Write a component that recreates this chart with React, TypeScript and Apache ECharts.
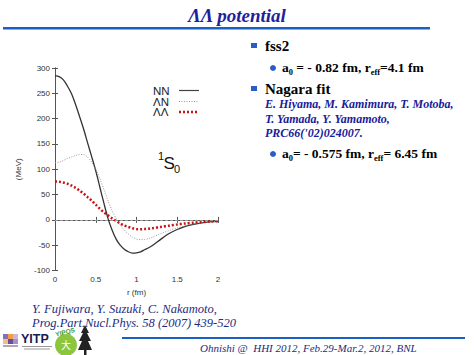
import React, { useEffect, useRef } from "react";
import * as echarts from "echarts";

const rValues = [0, 0.05, 0.1, 0.15, 0.2, 0.25, 0.3, 0.35, 0.4, 0.45, 0.5, 0.55, 0.6, 0.65, 0.7, 0.75, 0.8, 0.85, 0.9, 0.95, 1.0, 1.05, 1.1, 1.15, 1.2, 1.3, 1.4, 1.5, 1.6, 1.7, 1.8, 1.9, 2.0];
const nnValues = [285, 283, 277, 265, 250, 229, 205, 180, 152, 125, 97, 65, 33, 3, -20, -38, -50, -58, -63, -65.5, -65, -63, -59, -55, -50, -38, -27, -19, -13, -9, -6, -4, -3];
const lnValues = [113, 114, 117, 121, 124, 127, 129, 129, 124, 114, 100, 82, 60, 38, 18, 3, -10, -20, -28, -34, -38, -39, -38.5, -37, -34, -27, -21, -16, -11.5, -8, -5.5, -4, -3];
const llValues = [76, 75.5, 74, 71.5, 68, 63.5, 58, 52, 45, 38, 30, 22, 15, 9, 3, -2, -7, -11, -14, -16.5, -18, -18.5, -18, -17.5, -16.5, -14, -11.5, -9, -7, -5.5, -4, -3, -2.5];
const seriesNames = ["NN", "ΛN", "ΛΛ"];
const yTicks = { min: -100, max: 300, interval: 50 };
const xTicks = { min: 0, max: 2, interval: 0.5 };

const SERIF = "'Liberation Serif', 'Times New Roman', serif";
const SANS = "'Liberation Sans', Arial, sans-serif";

function pairs(vals: number[]) {
  return rValues.map((r, i) => [r, vals[i]]);
}

function txt(x: number, y: number, text: string, opts: any = {}) {
  const align = opts.align || "left";
  return {
    type: "text",
    x,
    y,
    rotation: opts.rotation || 0,
    style: {
      text,
      fontSize: opts.fontSize || 12,
      fontFamily: opts.fontFamily || SERIF,
      fontWeight: opts.fontWeight || "normal",
      fontStyle: opts.fontStyle || "normal",
      fill: opts.fill || "#000",
      align,
      textAlign: align,
      verticalAlign: "middle",
      textVerticalAlign: "middle",
      rich: opts.rich,
    },
    silent: true,
  };
}

const subRich = (size: number, color: string) => ({
  m: { fontSize: size, fontWeight: "bold", fontFamily: SERIF, fill: color, lineHeight: 18, verticalAlign: "middle" },
  s: { fontSize: size * 0.62, fontWeight: "bold", fontFamily: SERIF, fill: color, lineHeight: 9, verticalAlign: "bottom" },
});

export default function App() {
  const ref = useRef<HTMLDivElement>(null);
  useEffect(() => {
    if (!ref.current) return;
    const chart = echarts.init(ref.current, undefined, { renderer: "svg" });
    const axisCommon = {
      type: "value",
      axisLine: { show: true, lineStyle: { color: "#555", width: 1 } },
      axisTick: { show: true, inside: true, length: 3, lineStyle: { color: "#555" } },
      splitLine: { show: false },
    };
    const legendRows = [90.5, 101.5, 112];
    const legendStyles = [
      { stroke: "#444", lineWidth: 1.2, lineDash: null },
      { stroke: "#999", lineWidth: 1, lineDash: [1, 1.5] },
      { stroke: "#cc1111", lineWidth: 2.5, lineDash: [2, 2] },
    ];
    const graphics: any[] = [
      // title
      txt(237, 15, "ΛΛ potential", { fontSize: 19, fontWeight: "bold", fontStyle: "italic", fill: "#1f1f9e", align: "center" }),
      { type: "rect", shape: { x: 3, y: 27, width: 427, height: 2.5 }, style: { fill: "#1a5fc4" }, silent: true },
      // bullets
      { type: "rect", shape: { x: 251, y: 43, width: 6, height: 5 }, style: { fill: "#2a5cc8" }, silent: true },
      txt(265, 46, "fss2", { fontSize: 15, fontWeight: "bold" }),
      { type: "circle", shape: { cx: 273, cy: 68, r: 3 }, style: { fill: "#2a5cc8" }, silent: true },
      txt(282, 67, "{m|a}{s|0}{m| = - 0.82 fm, r}{s|eff}{m|=4.1 fm}", { rich: subRich(13.5, "#000") }),
      { type: "rect", shape: { x: 251, y: 86, width: 6, height: 5 }, style: { fill: "#2a5cc8" }, silent: true },
      txt(265, 89, "Nagara fit", { fontSize: 15, fontWeight: "bold" }),
      txt(265, 104, "E. Hiyama, M. Kamimura, T. Motoba,", { fontSize: 12, fontWeight: "bold", fontStyle: "italic", fill: "#1a1a9a" }),
      txt(265, 118.5, "T. Yamada, Y. Yamamoto,", { fontSize: 12, fontWeight: "bold", fontStyle: "italic", fill: "#1a1a9a" }),
      txt(265, 133, "PRC66('02)024007.", { fontSize: 12, fontWeight: "bold", fontStyle: "italic", fill: "#1a1a9a" }),
      { type: "circle", shape: { cx: 273, cy: 154, r: 3 }, style: { fill: "#2a5cc8" }, silent: true },
      txt(282, 153, "{m|a}{s|0}{m|= - 0.575 fm, r}{s|eff}{m|= 6.45 fm}", { rich: subRich(13.5, "#000") }),
      // reference
      txt(32, 309, "Y. Fujiwara, Y. Suzuki, C. Nakamoto,", { fontSize: 12.5, fontStyle: "italic", fill: "#1d2b80" }),
      txt(32, 323, "Prog.Part.Nucl.Phys. 58 (2007) 439-520", { fontSize: 12.5, fontStyle: "italic", fill: "#1d2b80" }),
      // footer
      { type: "rect", shape: { x: 122, y: 337, width: 343, height: 2 }, style: { fill: "#1a5fc4" }, silent: true },
      txt(200, 348, "Ohnishi @  HHI 2012, Feb.29-Mar.2, 2012, BNL", { fontSize: 11, fontStyle: "italic", fill: "#1d2b80" }),
      // logos
      { type: "rect", shape: { x: 3, y: 334, width: 5, height: 5 }, style: { fill: "#8a6cc0" }, silent: true },
      { type: "rect", shape: { x: 8, y: 334, width: 5, height: 5 }, style: { fill: "#f0a040" }, silent: true },
      { type: "rect", shape: { x: 13, y: 334, width: 5, height: 5 }, style: { fill: "#c8b8e0" }, silent: true },
      { type: "rect", shape: { x: 3, y: 339, width: 5, height: 5 }, style: { fill: "#f0c080" }, silent: true },
      { type: "rect", shape: { x: 8, y: 339, width: 5, height: 5 }, style: { fill: "#6a4ca0" }, silent: true },
      { type: "rect", shape: { x: 13, y: 339, width: 5, height: 5 }, style: { fill: "#a890d0" }, silent: true },
      { type: "rect", shape: { x: 3, y: 345, width: 15, height: 2 }, style: { fill: "#aaa" }, silent: true },
      txt(21, 339, "YITP", { fontSize: 12.5, fontWeight: "bold", fontFamily: SANS, fill: "#1a1a50" }),
      { type: "rect", shape: { x: 22, y: 346, width: 30, height: 1 }, style: { fill: "#999" }, silent: true },
      { type: "rect", shape: { x: 24, y: 348.5, width: 26, height: 1 }, style: { fill: "#999" }, silent: true },
      { type: "circle", shape: { cx: 66, cy: 345, r: 11 }, style: { fill: "#8cc63f" }, silent: true },
      txt(65, 332, "YIPQS", { fontSize: 6.5, fontWeight: "bold", fontFamily: SANS, fill: "#3a9a30", align: "center", rotation: 0.25 }),
      txt(66, 344, "大", { fontSize: 10, fontFamily: "'Noto Sans CJK JP'", fill: "#ffffff", align: "center" }),
      { type: "polygon", shape: { points: [[85, 325], [81, 333], [83, 333], [79, 341], [82, 341], [78, 350], [92, 350], [88, 341], [91, 341], [87, 333], [89, 333]] }, style: { fill: "#222" }, silent: true },
      { type: "rect", shape: { x: 84, y: 349, width: 2.5, height: 6 }, style: { fill: "#222" }, silent: true },
      // in-plot legend
      ...seriesNames.map((n, i) => txt(153, legendRows[i], n, { fontSize: 11.5, fontFamily: SANS, fill: "#222" })),
      ...legendStyles.map((s, i) => ({
        type: "line",
        shape: { x1: 179, y1: legendRows[i], x2: 199, y2: legendRows[i] },
        style: { stroke: s.stroke, lineWidth: s.lineWidth, lineDash: s.lineDash },
        silent: true,
      })),
      // 1S0
      txt(158, 156, "1", { fontSize: 11, fontFamily: SANS, fill: "#111" }),
      txt(163.5, 163, "S", { fontSize: 17, fontFamily: SANS, fill: "#111" }),
      txt(174, 169, "0", { fontSize: 11, fontFamily: SANS, fill: "#111" }),
    ];

    chart.setOption({
      animation: false,
      backgroundColor: "#ffffff",
      grid: { left: 55, right: 256, top: 68, bottom: 84.5 },
      xAxis: [
        {
          ...axisCommon,
          ...xTicks,
          position: "bottom",
          axisLabel: { fontSize: 8, color: "#333", margin: 5, fontFamily: SANS },
          name: "r (fm)",
          nameLocation: "middle",
          nameGap: 16,
          nameTextStyle: { fontSize: 8, color: "#333", fontFamily: SANS },
        },
        { ...axisCommon, ...xTicks, position: "top", axisLabel: { show: false } },
      ],
      yAxis: [
        {
          ...axisCommon,
          ...yTicks,
          position: "left",
          axisLabel: { fontSize: 8, color: "#333", margin: 5, fontFamily: SANS },
          name: "(MeV)",
          nameLocation: "middle",
          nameGap: 33,
          nameRotate: 90,
          nameTextStyle: { fontSize: 8, color: "#333", fontFamily: SANS },
        },
        { ...axisCommon, ...yTicks, position: "right", axisLabel: { show: false } },
      ],
      series: [
        {
          name: seriesNames[0],
          type: "line",
          data: pairs(nnValues),
          smooth: 0.3,
          showSymbol: false,
          lineStyle: { color: "#333", width: 1.3 },
          markLine: {
            silent: true,
            symbol: "none",
            label: { show: false },
            lineStyle: { color: "#999", type: [3, 2], width: 1 },
            data: [{ yAxis: 0 }],
          },
        },
        {
          name: seriesNames[1],
          type: "line",
          data: pairs(lnValues),
          smooth: 0.3,
          showSymbol: false,
          lineStyle: { color: "#999", width: 1, type: [1, 1.5] },
        },
        {
          name: seriesNames[2],
          type: "line",
          data: pairs(llValues),
          smooth: 0.3,
          showSymbol: false,
          lineStyle: { color: "#cc1111", width: 2.5, type: [2, 2] },
        },
      ],
      graphic: { elements: graphics },
    });
    return () => chart.dispose();
  }, []);
  return (
    <div
      ref={ref}
      style={{ position: "absolute", left: 0, top: 0, width: 474, height: 355, background: "#fff" }}
    />
  );
}
